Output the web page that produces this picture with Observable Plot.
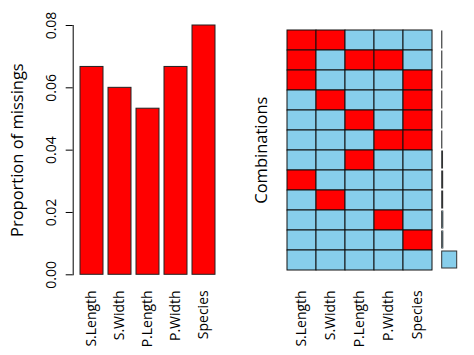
<!DOCTYPE html>
<html>
<head>
<meta charset="utf-8">
<script src="https://cdn.jsdelivr.net/npm/d3@7"></script>
<script src="https://cdn.jsdelivr.net/npm/@observablehq/plot@0.6"></script>
<style>
  html, body { margin: 0; padding: 0; background: #fff; }
  #wrap { position: relative; width: 474px; height: 355px; font-family: "Open Sans", sans-serif; }
  #wrap > svg { position: absolute; top: 0; }
</style>
</head>
<body>
<div id="wrap"></div>
<script>
// ---- data ----
const vars = ["S.Length", "S.Width", "P.Length", "P.Width", "Species"];
const propMissing = [0.0667, 0.06, 0.0533, 0.0667, 0.08];
const yTicks = [0, 0.02, 0.04, 0.06, 0.08];
// missing-pattern combinations (1 = missing), top to bottom
const combos = [
  [1,1,0,0,0],
  [1,0,1,1,0],
  [1,0,0,0,1],
  [0,1,0,0,1],
  [0,0,1,0,1],
  [0,0,0,1,1],
  [0,0,1,0,0],
  [1,0,0,0,0],
  [0,1,0,0,0],
  [0,0,0,1,0],
  [0,0,0,0,1],
  [0,0,0,0,0]
];
const comboCounts = [1, 1, 1, 1, 1, 1, 6, 7, 7, 8, 8, 108];
const yLabelLeft = "Proportion of missings";
const yLabelRight = "Combinations";

const RED = "#FF0000", BLUE = "#87CEEB";
const wrap = document.getElementById("wrap");
const font = "Open Sans";

// ---- left: bar chart ----
const barData = vars.map((v, i) => ({v, p: propMissing[i]}));
const left = Plot.plot({
  width: 240, height: 355,
  marginLeft: 72.7, marginRight: 21, marginTop: 25, marginBottom: 80.7,
  style: {fontFamily: font, fontSize: "14px", color: "#000", background: "transparent", overflow: "visible"},
  x: {type: "band", domain: vars, range: [75.3, 219], paddingInner: 0.17, paddingOuter: 0.085, label: null},
  y: {domain: [0, 0.08], range: [274.3, 25], label: null},
  marks: [
    Plot.barY(barData, {x: "v", y: "p", fill: RED, stroke: "#222", strokeWidth: 1}),
    Plot.frame({anchor: "left", stroke: "#000"}),
    Plot.axisY({ticks: yTicks, tickFormat: d3.format(".2f"), tickSize: 7, tickRotate: -90, tickPadding: 10.5, fontSize: 14, stroke: "#000"}),
    Plot.axisX({tickSize: 0, tickRotate: -90, tickPadding: 15.5, fontSize: 14, label: null}),
    Plot.text([yLabelLeft], {text: d => d, frameAnchor: "left", textAnchor: "middle", dx: -55.2, rotate: -90, fontSize: 16.5, fill: "#000"})
  ]
});
left.style.left = "0px";
wrap.appendChild(left);

// ---- right: combinations grid ----
const cells = [];
combos.forEach((row, r) => row.forEach((m, c) => cells.push({row: r, v: vars[c], miss: m})));
const rows = combos.map((_, i) => i);
const grid = Plot.plot({
  width: 234, height: 355,
  marginLeft: 45, marginRight: 39.7, marginTop: 25, marginBottom: 80.7,
  style: {fontFamily: font, fontSize: "14px", color: "#000", background: "transparent", overflow: "visible"},
  x: {type: "band", domain: vars, range: [45, 194.3], padding: 0, label: null},
  y: {type: "band", domain: rows, range: [25, 274.3], padding: 0, axis: null},
  color: {type: "ordinal", domain: [0, 1], range: [BLUE, RED]},
  marks: [
    Plot.cell(cells, {x: "v", y: "row", fill: "miss", stroke: "#111", strokeWidth: 1, inset: 0}),
    Plot.axisX({tickSize: 0, tickRotate: -90, tickPadding: 15.5, fontSize: 14, label: null}),
    Plot.text([yLabelRight], {text: d => d, frameAnchor: "left", textAnchor: "middle", dx: -24, rotate: -90, fontSize: 16.5, fill: "#000"})
  ]
});
grid.style.left = "240px";
wrap.appendChild(grid);

// ---- right edge: combination frequencies ----
const freqData = comboCounts.map((n, i) => ({row: i, n}));
const freq = Plot.plot({
  width: 44, height: 355,
  marginLeft: 11.7, marginRight: 17.3, marginTop: 25, marginBottom: 80.7,
  style: {background: "transparent"},
  x: {domain: [0, 108], range: [11.7, 26.7], axis: null},
  y: {type: "band", domain: rows, range: [25, 274.3], paddingInner: 0.15, paddingOuter: 0.075, axis: null},
  marks: [
    Plot.barX(freqData, {x: "n", y: "row", fill: BLUE, stroke: "#333", strokeWidth: 1})
  ]
});
freq.style.left = "430px";
wrap.appendChild(freq);
</script>
</body>
</html>
